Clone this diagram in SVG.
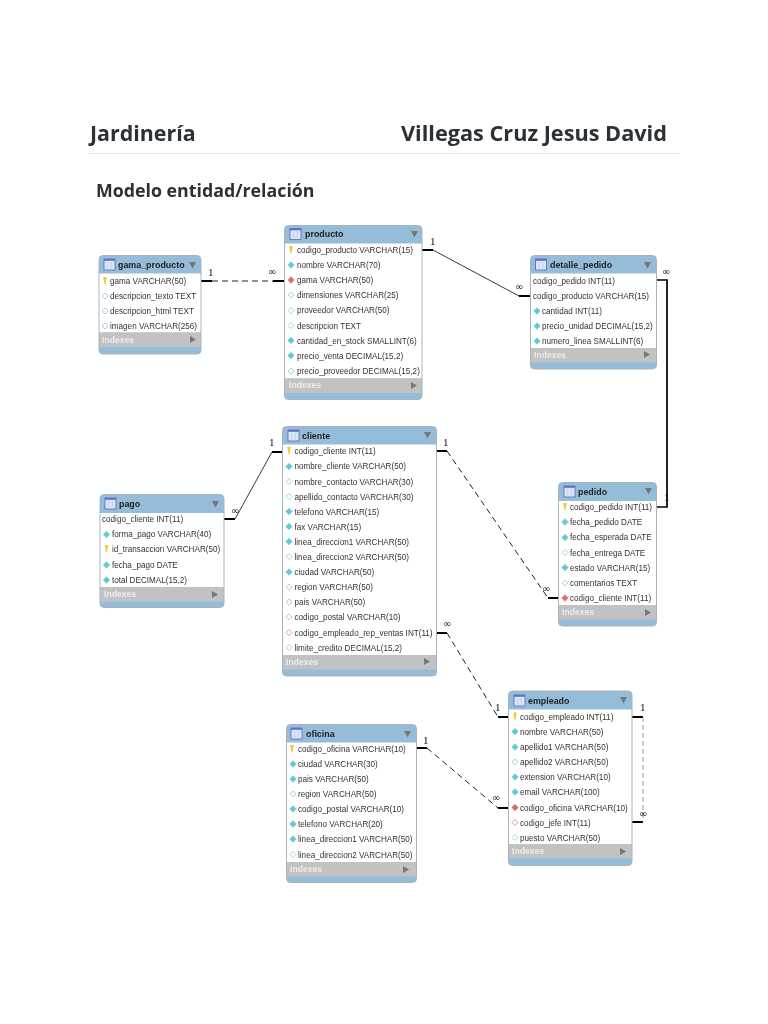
<svg xmlns="http://www.w3.org/2000/svg" width="768" height="1024" viewBox="0 0 768 1024">
<style>
.t{font-family:"Open Sans","Noto Sans",sans-serif;font-weight:700;fill:#2c3036}
.box{fill:#95bdd9;stroke:#a8b4bc;stroke-width:1}
.body{fill:#fff}
.grey{fill:#c2c2c2}
.name{font-family:"Liberation Sans",Arial,sans-serif;font-weight:700;font-size:8.9px;fill:#222}
.r{font-family:"Liberation Sans",Arial,sans-serif;font-size:8.15px;fill:#333}
.ix{font-family:"Liberation Sans",Arial,sans-serif;font-size:8.6px;font-weight:700;fill:#ececec}
.arr{fill:#777}
.thick{stroke:#000;stroke-width:2.2;fill:none}
.thin{stroke:#222;stroke-width:.9;fill:none}
.dash{stroke:#222;stroke-width:1;fill:none;stroke-dasharray:6 4}
.lab1{font-family:"Liberation Serif",serif;font-size:11px;fill:#111}
.labi{font-family:"DejaVu Sans",sans-serif;font-size:10px;fill:#111}
</style>
<defs>
<filter id="soft" x="0" y="0" width="768" height="1024" filterUnits="userSpaceOnUse"><feGaussianBlur stdDeviation="0.5"/></filter>
<g id="tbl"><rect x="0" y="0" width="11" height="11" fill="#dce6f4" stroke="#5b70cc" stroke-width=".9"/><rect x="0" y="0" width="11" height="1.8" fill="#5b70cc"/><path d="M3.7 3v8M7.3 3v8" stroke="#b8c6e0" stroke-width=".7"/></g>
<path id="down" class="arr" d="M0 0h7l-3.5 6.5z"/>
<path id="right" class="arr" d="M0 0l6 3.5l-6 3.5z"/>
<path id="key" d="M-1.8 -4h3.6l-.7 3.6l-.6 4h-1l-.6 -4z" fill="#f3c92f"/>
<path id="f" d="M0 -3.4l3.4 3.4l-3.4 3.4l-3.4 -3.4z" fill="#5fc9d8" stroke="#9ad5e0" stroke-width=".5"/>
<path id="h" d="M0 -3l3 3l-3 3l-3 -3z" fill="#fff" stroke="#8cc9d2" stroke-width=".8"/>
<path id="k" d="M0 -3.4l3.4 3.4l-3.4 3.4l-3.4 -3.4z" fill="#e0686a" stroke="#eda0a0" stroke-width=".5"/>
<path id="o" d="M0 -3l3 3l-3 3l-3 -3z" fill="#fff" stroke="#d07f7f" stroke-width=".8"/>
</defs>
<rect width="768" height="1024" fill="#fff"/>
<g filter="url(#soft)">
<text class="t" x="90" y="141" font-size="21.4">Jardinería</text>
<text class="t" x="401" y="141" font-size="21.7">Villegas Cruz Jesus David</text>
<rect x="88" y="153" width="592" height="1" fill="#e6e6e6"/>
<text class="t" x="96" y="197" font-size="17.8">Modelo entidad/relación</text>

<g id="connectors">
<path class="thick" d="M201 281h11M273 281h11"/><path class="dash" d="M212 281H273"/>
<path class="thick" d="M422 250h11M519 296h11"/><path class="thin" d="M433 250L519 296"/>
<path d="M656 280h11V507h-11" fill="none" stroke="#000" stroke-width="1.7"/>
<path class="thick" d="M224 519h11M272 452h10"/><path class="thin" d="M235 519L272 452"/>
<path class="thick" d="M436 451h11M548 598h10"/><path class="dash" d="M447 451L548 598"/>
<path class="thick" d="M436 633h11M498 717h10"/><path class="dash" d="M447 633L498 717"/>
<path class="thick" d="M416 748h11M498 808h10"/><path class="dash" d="M427 748L498 808"/>
<path class="thick" d="M632 717h11M632 822h11"/><path d="M643 717V822" fill="none" stroke="#999" stroke-width="1" stroke-dasharray="5 3"/>
<text class="lab1" x="208" y="276">1</text><text class="labi" x="268" y="275">∞</text>
<text class="lab1" x="430" y="245">1</text><text class="labi" x="515" y="290">∞</text>
<text class="labi" x="662" y="275">∞</text><text class="lab1" x="664" y="501">1</text>
<text class="labi" x="231" y="514">∞</text><text class="lab1" x="269" y="446">1</text>
<text class="lab1" x="443" y="446">1</text><text class="labi" x="542" y="592">∞</text>
<text class="labi" x="443" y="627">∞</text><text class="lab1" x="495" y="711">1</text>
<text class="lab1" x="423" y="744">1</text><text class="labi" x="492" y="801">∞</text>
<text class="lab1" x="640" y="711">1</text><text class="labi" x="639" y="817">∞</text>
</g>

<g id="gama_producto">
<rect class="box" x="99" y="255.5" width="102" height="98.5" rx="4"/>
<rect class="body" x="99.5" y="273.5" width="101" height="59"/><rect class="grey" x="99.5" y="332.5" width="101" height="14.5"/>
<use href="#tbl" x="104" y="259"/><text class="name" x="118" y="268">gama_producto</text><use href="#down" x="189" y="262"/>
<use href="#key" x="105" y="281"/><text class="r" x="110" y="283.5">gama VARCHAR(50)</text>
<use href="#h" x="105" y="296"/><text class="r" x="110" y="298.5">descripcion_texto TEXT</text>
<use href="#h" x="105" y="311"/><text class="r" x="110" y="313.5">descripcion_html TEXT</text>
<use href="#h" x="105" y="326"/><text class="r" x="110" y="328.5">imagen VARCHAR(256)</text>
<text class="ix" x="102" y="343">Indexes</text><use href="#right" x="190" y="336"/>
</g>

<g id="producto">
<rect class="box" x="284.5" y="225.5" width="137.5" height="174" rx="4"/>
<rect class="body" x="285" y="243.5" width="136.5" height="135"/><rect class="grey" x="285" y="378.5" width="136.5" height="14.5"/>
<use href="#tbl" x="290" y="228.5"/><text class="name" x="305" y="237">producto</text><use href="#down" x="411" y="231"/>
<use href="#key" x="291" y="250"/><text class="r" x="297" y="253">codigo_producto VARCHAR(15)</text>
<use href="#f" x="291" y="265"/><text class="r" x="297" y="268">nombre VARCHAR(70)</text>
<use href="#k" x="291" y="280"/><text class="r" x="297" y="283">gama VARCHAR(50)</text>
<use href="#h" x="291" y="295"/><text class="r" x="297" y="298">dimensiones VARCHAR(25)</text>
<use href="#h" x="291" y="310.5"/><text class="r" x="297" y="313">proveedor VARCHAR(50)</text>
<use href="#h" x="291" y="325.5"/><text class="r" x="297" y="328.5">descripcion TEXT</text>
<use href="#f" x="291" y="340.5"/><text class="r" x="297" y="343.5">cantidad_en_stock SMALLINT(6)</text>
<use href="#f" x="291" y="355.5"/><text class="r" x="297" y="358.5">precio_venta DECIMAL(15,2)</text>
<use href="#h" x="291" y="371"/><text class="r" x="297" y="374">precio_proveedor DECIMAL(15,2)</text>
<text class="ix" x="289" y="388">Indexes</text><use href="#right" x="411" y="382"/>
</g>

<g id="detalle_pedido">
<rect class="box" x="530.5" y="255.5" width="126" height="113.5" rx="4"/>
<rect class="body" x="531" y="273.5" width="125" height="74.5"/><rect class="grey" x="531" y="348" width="125" height="14.5"/>
<use href="#tbl" x="535.5" y="259"/><text class="name" x="550" y="268">detalle_pedido</text><use href="#down" x="644" y="262"/>
<text class="r" x="533" y="284">codigo_pedido INT(11)</text>
<text class="r" x="533" y="299">codigo_producto VARCHAR(15)</text>
<use href="#f" x="537" y="311"/><text class="r" x="542" y="314">cantidad INT(11)</text>
<use href="#f" x="537" y="326"/><text class="r" x="542" y="329">precio_unidad DECIMAL(15,2)</text>
<use href="#f" x="537" y="341"/><text class="r" x="542" y="344">numero_linea SMALLINT(6)</text>
<text class="ix" x="534" y="358">Indexes</text><use href="#right" x="644" y="351"/>
</g>

<g id="cliente">
<rect class="box" x="282.5" y="426.5" width="154" height="249.5" rx="4"/>
<rect class="body" x="283" y="444.5" width="153" height="210.5"/><rect class="grey" x="283" y="655" width="153" height="14.5"/>
<use href="#tbl" x="288" y="430"/><text class="name" x="302" y="439">cliente</text><use href="#down" x="424" y="432"/>
<use href="#key" x="289" y="451"/><text class="r" x="294.5" y="454">codigo_cliente INT(11)</text>
<use href="#f" x="289" y="466.5"/><text class="r" x="294.5" y="469">nombre_cliente VARCHAR(50)</text>
<use href="#h" x="289" y="481.5"/><text class="r" x="294.5" y="484.5">nombre_contacto VARCHAR(30)</text>
<use href="#h" x="289" y="496.5"/><text class="r" x="294.5" y="499.5">apellido_contacto VARCHAR(30)</text>
<use href="#f" x="289" y="511.5"/><text class="r" x="294.5" y="514.5">telefono VARCHAR(15)</text>
<use href="#f" x="289" y="526.5"/><text class="r" x="294.5" y="529.5">fax VARCHAR(15)</text>
<use href="#f" x="289" y="541.5"/><text class="r" x="294.5" y="544.5">linea_direccion1 VARCHAR(50)</text>
<use href="#h" x="289" y="556.5"/><text class="r" x="294.5" y="559.5">linea_direccion2 VARCHAR(50)</text>
<use href="#f" x="289" y="572"/><text class="r" x="294.5" y="575">ciudad VARCHAR(50)</text>
<use href="#h" x="289" y="587"/><text class="r" x="294.5" y="590">region VARCHAR(50)</text>
<use href="#h" x="289" y="602"/><text class="r" x="294.5" y="605">pais VARCHAR(50)</text>
<use href="#h" x="289" y="617"/><text class="r" x="294.5" y="620">codigo_postal VARCHAR(10)</text>
<use href="#o" x="289" y="632.5"/><text class="r" x="294.5" y="635.5">codigo_empleado_rep_ventas INT(11)</text>
<use href="#h" x="289" y="647.5"/><text class="r" x="294.5" y="650.5">limite_credito DECIMAL(15,2)</text>
<text class="ix" x="286" y="665">Indexes</text><use href="#right" x="424" y="658"/>
</g>

<g id="pago">
<rect class="box" x="100" y="494.5" width="124" height="113" rx="4"/>
<rect class="body" x="100.5" y="513" width="123" height="74"/><rect class="grey" x="100.5" y="587" width="123" height="14.5"/>
<use href="#tbl" x="105" y="498"/><text class="name" x="119" y="507">pago</text><use href="#down" x="212" y="501"/>
<text class="r" x="102" y="522">codigo_cliente INT(11)</text>
<use href="#f" x="106.5" y="534.5"/><text class="r" x="112" y="537">forma_pago VARCHAR(40)</text>
<use href="#key" x="106.5" y="549"/><text class="r" x="112" y="552">id_transaccion VARCHAR(50)</text>
<use href="#f" x="106.5" y="565"/><text class="r" x="112" y="567.5">fecha_pago DATE</text>
<use href="#f" x="106.5" y="580"/><text class="r" x="112" y="582.5">total DECIMAL(15,2)</text>
<text class="ix" x="104" y="597">Indexes</text><use href="#right" x="212" y="591"/>
</g>

<g id="pedido">
<rect class="box" x="558.5" y="482.5" width="98" height="143.5" rx="4"/>
<rect class="body" x="559" y="501" width="97" height="104"/><rect class="grey" x="559" y="605" width="97" height="14.5"/>
<use href="#tbl" x="564" y="486"/><text class="name" x="578" y="495">pedido</text><use href="#down" x="645" y="488"/>
<use href="#key" x="565" y="507"/><text class="r" x="570" y="510">codigo_pedido INT(11)</text>
<use href="#f" x="565" y="522"/><text class="r" x="570" y="525">fecha_pedido DATE</text>
<use href="#f" x="565" y="537.5"/><text class="r" x="570" y="540">fecha_esperada DATE</text>
<use href="#h" x="565" y="552.5"/><text class="r" x="570" y="555.5">fecha_entrega DATE</text>
<use href="#f" x="565" y="567.5"/><text class="r" x="570" y="570.5">estado VARCHAR(15)</text>
<use href="#h" x="565" y="583"/><text class="r" x="570" y="586">comentarios TEXT</text>
<use href="#k" x="565" y="598"/><text class="r" x="570" y="601">codigo_cliente INT(11)</text>
<text class="ix" x="562" y="615">Indexes</text><use href="#right" x="645" y="609"/>
</g>

<g id="empleado">
<rect class="box" x="508.5" y="691" width="123.5" height="174.5" rx="4"/>
<rect class="body" x="509" y="709.5" width="122.5" height="134.5"/><rect class="grey" x="509" y="844" width="122.5" height="14.5"/>
<use href="#tbl" x="514" y="695"/><text class="name" x="528" y="704">empleado</text><use href="#down" x="620" y="697"/>
<use href="#key" x="515" y="716.5"/><text class="r" x="520" y="719.5">codigo_empleado INT(11)</text>
<use href="#f" x="515" y="731.5"/><text class="r" x="520" y="734.5">nombre VARCHAR(50)</text>
<use href="#f" x="515" y="747"/><text class="r" x="520" y="750">apellido1 VARCHAR(50)</text>
<use href="#h" x="515" y="762"/><text class="r" x="520" y="765">apellido2 VARCHAR(50)</text>
<use href="#f" x="515" y="777"/><text class="r" x="520" y="780">extension VARCHAR(10)</text>
<use href="#f" x="515" y="792"/><text class="r" x="520" y="795">email VARCHAR(100)</text>
<use href="#k" x="515" y="807.5"/><text class="r" x="520" y="810.5">codigo_oficina VARCHAR(10)</text>
<use href="#o" x="515" y="822.5"/><text class="r" x="520" y="825.5">codigo_jefe INT(11)</text>
<use href="#h" x="515" y="837.5"/><text class="r" x="520" y="840.5">puesto VARCHAR(50)</text>
<text class="ix" x="512" y="854">Indexes</text><use href="#right" x="620" y="848"/>
</g>

<g id="oficina">
<rect class="box" x="286.5" y="724.5" width="130" height="158" rx="4"/>
<rect class="body" x="287" y="742.5" width="129" height="120"/><rect class="grey" x="287" y="862" width="129" height="14.5"/>
<use href="#tbl" x="291" y="728"/><text class="name" x="306" y="737">oficina</text><use href="#down" x="404" y="731"/>
<use href="#key" x="292" y="749"/><text class="r" x="298" y="752">codigo_oficina VARCHAR(10)</text>
<use href="#f" x="293" y="764"/><text class="r" x="298" y="767">ciudad VARCHAR(30)</text>
<use href="#f" x="293" y="779"/><text class="r" x="298" y="782">pais VARCHAR(50)</text>
<use href="#h" x="293" y="794"/><text class="r" x="298" y="797">region VARCHAR(50)</text>
<use href="#f" x="293" y="809"/><text class="r" x="298" y="812">codigo_postal VARCHAR(10)</text>
<use href="#f" x="293" y="824"/><text class="r" x="298" y="827">telefono VARCHAR(20)</text>
<use href="#f" x="293" y="839"/><text class="r" x="298" y="842">linea_direccion1 VARCHAR(50)</text>
<use href="#h" x="293" y="854.5"/><text class="r" x="298" y="857.5">linea_direccion2 VARCHAR(50)</text>
<text class="ix" x="290" y="872">Indexes</text><use href="#right" x="403" y="866"/>
</g>
</g>
</svg>
